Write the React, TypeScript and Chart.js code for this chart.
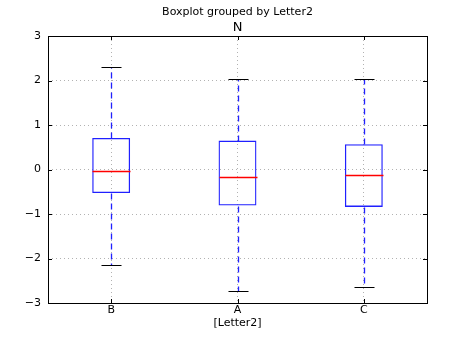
import React, { useEffect, useRef } from "react";
import { Chart, registerables } from "chart.js";

Chart.register(...registerables);

const categories = ["B", "A", "C"];
const whiskerLow = [-2.15, -2.72, -2.63];
const q1 = [-0.53, -0.81, -0.84];
const median = [-0.035, -0.16, -0.12];
const q3 = [0.71, 0.65, 0.57];
const whiskerHigh = [2.31, 2.03, 2.03];
const yTicks = [-3, -2, -1, 0, 1, 2, 3];

const chartTitle = "Boxplot grouped by Letter2";
const subTitle = "N";
const xTitle = "[Letter2]";

const FONT = "'DejaVu Sans', sans-serif";

const crisp = (v: number) => Math.round(v) + 0.5;

const boxPlugin = {
  id: "boxExtras",
  afterDatasetsDraw(chart: any) {
    const { ctx, scales } = chart;
    const x = scales.x;
    const y = scales.y;
    const meta = chart.getDatasetMeta(0);
    categories.forEach((_, i) => {
      const bar = meta.data[i];
      const cx = crisp(x.getPixelForValue(i));
      const half = Math.round(bar.width / 2);
      const capHalf = Math.round(half / 2);
      // whiskers
      ctx.save();
      ctx.strokeStyle = "#2020ff";
      ctx.lineWidth = 1.3;
      ctx.setLineDash([6, 4]);
      ctx.beginPath();
      ctx.moveTo(cx, crisp(y.getPixelForValue(q3[i])));
      ctx.lineTo(cx, crisp(y.getPixelForValue(whiskerHigh[i])));
      ctx.stroke();
      ctx.beginPath();
      ctx.moveTo(cx, crisp(y.getPixelForValue(q1[i])));
      ctx.lineTo(cx, crisp(y.getPixelForValue(whiskerLow[i])));
      ctx.stroke();
      ctx.restore();
      // caps
      ctx.save();
      ctx.strokeStyle = "#000000";
      ctx.lineWidth = 1.2;
      ctx.setLineDash([]);
      const yh = crisp(y.getPixelForValue(whiskerHigh[i]));
      const yl = crisp(y.getPixelForValue(whiskerLow[i]));
      ctx.beginPath();
      ctx.moveTo(cx - capHalf, yh);
      ctx.lineTo(cx + capHalf, yh);
      ctx.moveTo(cx - capHalf, yl);
      ctx.lineTo(cx + capHalf, yl);
      ctx.stroke();
      ctx.restore();
      // median
      ctx.save();
      ctx.strokeStyle = "#ff0000";
      ctx.lineWidth = 1.5;
      ctx.setLineDash([]);
      const ym = crisp(y.getPixelForValue(median[i]));
      ctx.beginPath();
      ctx.moveTo(cx - half, ym);
      ctx.lineTo(cx + half, ym);
      ctx.stroke();
      ctx.restore();
    });
  },
  afterDraw(chart: any) {
    const { ctx, chartArea, scales } = chart;
    const { left, right, top, bottom } = chartArea;
    ctx.save();
    ctx.setLineDash([]);
    ctx.strokeStyle = "#000000";
    ctx.lineWidth = 1;
    ctx.strokeRect(crisp(left), crisp(top), Math.round(right - left), Math.round(bottom - top));
    ctx.beginPath();
    yTicks.forEach((v) => {
      const py = crisp(scales.y.getPixelForValue(v));
      ctx.moveTo(left, py);
      ctx.lineTo(left + 4, py);
      ctx.moveTo(right, py);
      ctx.lineTo(right - 4, py);
    });
    categories.forEach((_, i) => {
      const px = crisp(scales.x.getPixelForValue(i));
      ctx.moveTo(px, bottom);
      ctx.lineTo(px, bottom - 4);
      ctx.moveTo(px, top);
      ctx.lineTo(px, top + 4);
    });
    ctx.stroke();
    ctx.fillStyle = "#000000";
    ctx.textAlign = "center";
    ctx.textBaseline = "middle";
    ctx.font = `11px ${FONT}`;
    ctx.fillText(chartTitle, (left + right) / 2, 12);
    ctx.font = `13px ${FONT}`;
    ctx.fillText(subTitle, (left + right) / 2, 28);
    ctx.restore();
  },
};

export default function App() {
  const ref = useRef<HTMLCanvasElement | null>(null);
  useEffect(() => {
    document.body.style.margin = "0";
    const canvas = ref.current!;
    const chart = new Chart(canvas, {
      type: "bar",
      data: {
        labels: categories,
        datasets: [
          {
            data: categories.map((_, i) => [q1[i], q3[i]]),
            backgroundColor: "rgba(0,0,0,0)",
            borderColor: "#2020ff",
            borderWidth: 1.3,
            borderSkipped: false,
            categoryPercentage: 1,
            barPercentage: 0.3,
          } as any,
        ],
      },
      options: {
        animation: false,
        responsive: false,
        events: [],
        layout: { padding: { left: 0, right: 47, top: 36, bottom: 26 } },
        plugins: { legend: { display: false }, tooltip: { enabled: false }, title: { display: false } },
        scales: {
          x: {
            type: "category",
            offset: true,
            grid: { offset: false, color: "rgba(0,0,0,0.3)", drawTicks: false, lineWidth: 1 },
            border: { display: false, dash: [1, 3] },
            ticks: { color: "#000", font: { family: FONT, size: 11 }, padding: 1 },
            title: { display: true, text: xTitle, color: "#000", font: { family: FONT, size: 11 }, padding: { top: 0, bottom: 0 } },
            afterFit: (s: any) => { s.height = 27; },
          },
          y: {
            min: -3,
            max: 3,
            grid: { color: "rgba(0,0,0,0.3)", drawTicks: false, lineWidth: 1 },
            border: { display: false, dash: [1, 3] },
            ticks: {
              stepSize: 1,
              color: "#000",
              font: { family: FONT, size: 11 },
              padding: 7,
              callback: (v: any) => String(v).replace("-", "\u2212"),
            },
            afterFit: (s: any) => { s.width = 48; },
          },
        },
      },
      plugins: [boxPlugin],
    });
    return () => chart.destroy();
  }, []);
  return (
    <div style={{ width: 474, height: 356, background: "#fff" }}>
      <canvas ref={ref} width={474} height={356} style={{ display: "block" }} />
    </div>
  );
}
